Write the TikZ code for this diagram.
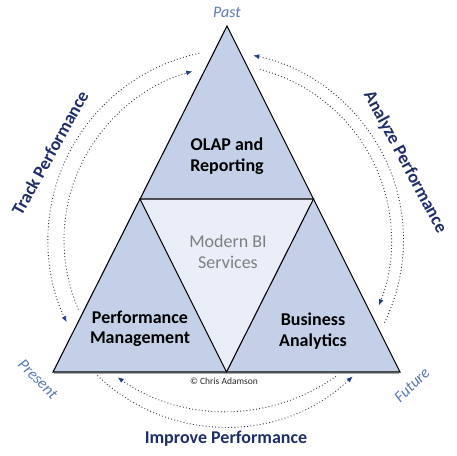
\documentclass[tikz,border=0pt]{standalone}
\usepackage{fontspec}
\setmainfont{Carlito}
\usetikzlibrary{arrows.meta}
\definecolor{tribl}{HTML}{C4D0E7}
\definecolor{trilt}{HTML}{E9EEF8}
\definecolor{navy}{HTML}{1F2D6B}
\definecolor{timec}{HTML}{5878B8}
\definecolor{dotc}{HTML}{2E3350}
\definecolor{tipc}{HTML}{1F3C88}
\definecolor{midgray}{HTML}{7F7F7F}
\begin{document}
\begin{tikzpicture}[x=1pt,y=-1pt,
  tri/.style={draw=black, line width=1.1pt, line join=miter},
  lbl/.style={font=\fontsize{18}{20.5}\selectfont\bfseries, align=center, text=black},
  cyc/.style={font=\fontsize{18}{20}\selectfont\bfseries, text=navy},
  tense/.style={font=\fontsize{16}{18}\selectfont\itshape, text=timec},
  loop/.style={draw=dotc, line width=0.9pt, dash pattern=on 0.9pt off 2.3pt,
    -{Latex[length=6pt,width=5pt,color=tipc]}}
]
\useasboundingbox (0,0) rectangle (457,455);
\coordinate (A) at (227,26);
\coordinate (B) at (53,372);
\coordinate (C) at (400,372);
\coordinate (AB) at (140,199);
\coordinate (AC) at (313.5,199);
\coordinate (BC) at (226.5,372);
% triangles
\draw[gray!70, line width=1.6pt] (54,373.6) -- (399,373.6);
\fill[tribl] (A) -- (B) -- (C) -- cycle;
\fill[trilt] (AB) -- (AC) -- (BC) -- cycle;
\draw[tri] (A) -- (B) -- (C) -- cycle;
\draw[tri] (AB) -- (AC) -- (BC) -- cycle;
% texts
\node[lbl] (olap) at (227,156) {OLAP and\\Reporting};
\node[lbl] (perf) at (140,329) {Performance\\Management};
\node[lbl] (bus) at (313,331) {Business\\Analytics};
\node[font=\fontsize{18}{20.5}\selectfont, align=center, text=midgray] (modern) at (228,252) {Modern BI\\Services};
\node[font=\fontsize{9.5}{11}\selectfont, text=black!85] (copy) at (224,381) {© Chris Adamson};
\node[tense] (past) at (227,12) {Past};
\node[tense, rotate=-45] (present) at (38,379) {Present};
\node[tense, rotate=44] (future) at (412,385) {Future};
\node[cyc, rotate=61] (track) at (50,153) {Track Performance};
\node[cyc, rotate=-62] (analyze) at (405,162) {Analyze Performance};
\node[cyc] (improve) at (226,439) {Improve Performance};
% cycle arcs
\coordinate (CL) at (239,240);
\coordinate (CR) at (215,240);
\coordinate (CB1) at (225.5,242);
\coordinate (CB2) at (226,222);
\draw[loop] (CL) ++(-102:191) arc[start angle=-102, end angle=-205.5, radius=191];
\draw[loop] (CL) ++(-203.4:175) arc[start angle=-203.4, end angle=-105.5, radius=175];
\draw[loop] (CR) ++(26:188.5) arc[start angle=26, end angle=-78.3, radius=188.5];
\draw[loop] (CR) ++(-75.3:176.5) arc[start angle=-75.3, end angle=21.7, radius=176.5];
\draw[loop] (CB1) ++(133.8:185) arc[start angle=133.8, end angle=46.6, radius=185];
\draw[loop] (CB2) ++(54.5:189.4) arc[start angle=54.5, end angle=124.9, radius=189.4];
\end{tikzpicture}
\end{document}
